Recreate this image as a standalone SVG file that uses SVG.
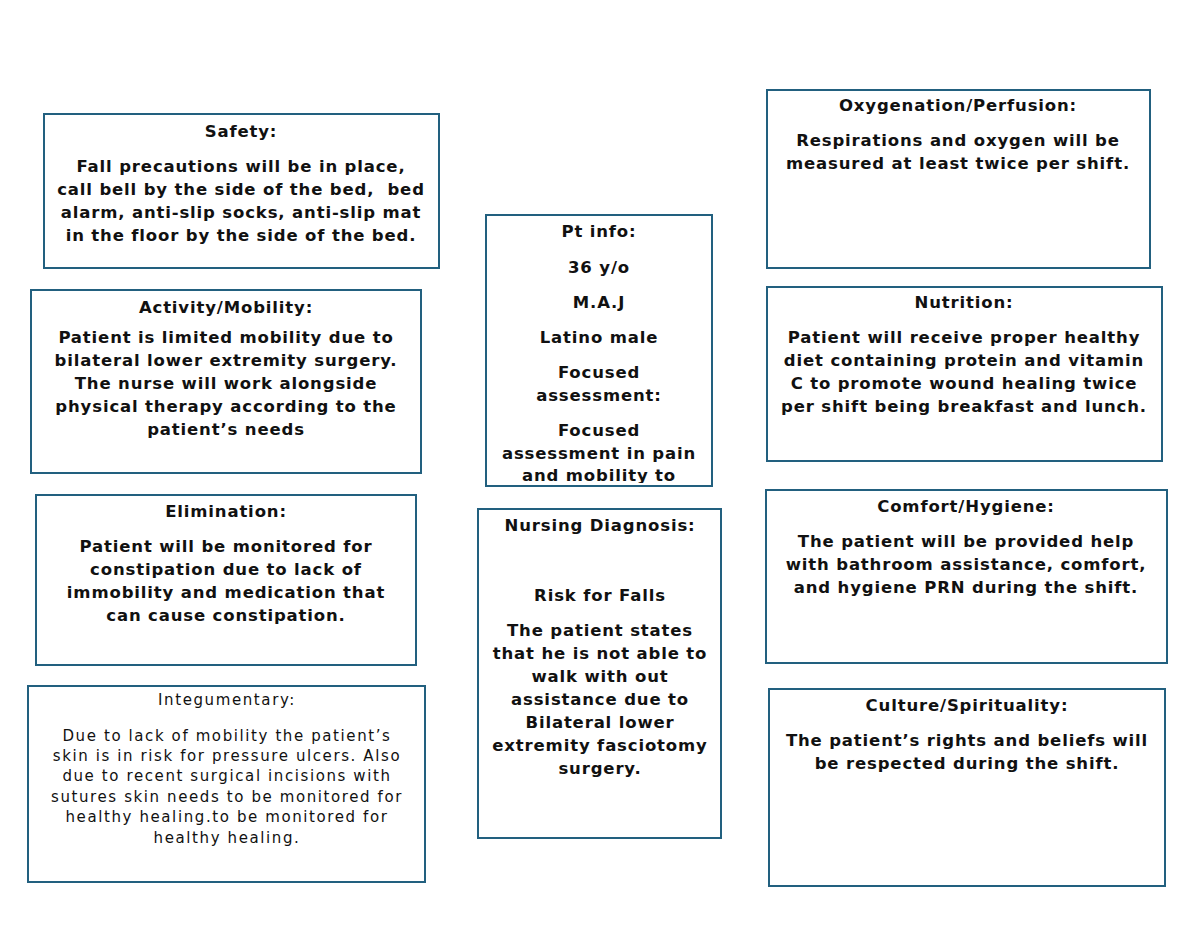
<svg xmlns="http://www.w3.org/2000/svg" width="1200" height="927" viewBox="0 0 1200 927">
<style>
.box{fill:#ffffff;stroke:#22607f;stroke-width:2}
.t{font-family:"DejaVu Sans",Verdana,sans-serif;font-size:16.5px;font-weight:bold;fill:#111;text-anchor:middle;letter-spacing:0.85px}
.r{font-family:"DejaVu Sans",Verdana,sans-serif;font-size:15px;fill:#111;text-anchor:middle;letter-spacing:1.6px}
</style>
<defs>
<clipPath id="cpPt"><rect x="487" y="216" width="224" height="267"/></clipPath>
</defs>
<rect width="1200" height="927" fill="#ffffff"/>
<g id="connectors"></g>
<g id="safety">
<rect class="box" x="44" y="114" width="395" height="154"/>
<text class="t" x="241" y="137">Safety:</text>
<text class="t" x="241" y="172">Fall precautions will be in place,</text>
<text class="t" x="241" y="195" xml:space="preserve">call bell by the side of the bed,  bed</text>
<text class="t" x="241" y="218">alarm, anti-slip socks, anti-slip mat</text>
<text class="t" x="241" y="241">in the floor by the side of the bed.</text>
</g>
<g id="activity">
<rect class="box" x="31" y="290" width="390" height="183"/>
<text class="t" x="226" y="313">Activity/Mobility:</text>
<text class="t" x="226" y="343">Patient is limited mobility due to</text>
<text class="t" x="226" y="366">bilateral lower extremity surgery.</text>
<text class="t" x="226" y="389">The nurse will work alongside</text>
<text class="t" x="226" y="412">physical therapy according to the</text>
<text class="t" x="226" y="435">patient’s needs</text>
</g>
<g id="elimination">
<rect class="box" x="36" y="495" width="380" height="170"/>
<text class="t" x="226" y="517">Elimination:</text>
<text class="t" x="226" y="552">Patient will be monitored for</text>
<text class="t" x="226" y="575">constipation due to lack of</text>
<text class="t" x="226" y="598">immobility and medication that</text>
<text class="t" x="226" y="621">can cause constipation.</text>
</g>
<g id="integumentary">
<rect class="box" x="28" y="686" width="397" height="196"/>
<text class="r" x="227" y="705">Integumentary:</text>
<text class="r" x="227" y="741">Due to lack of mobility the patient’s</text>
<text class="r" x="227" y="761">skin is in risk for pressure ulcers. Also</text>
<text class="r" x="227" y="781">due to recent surgical incisions with</text>
<text class="r" x="227" y="802">sutures skin needs to be monitored for</text>
<text class="r" x="227" y="822">healthy healing.to be monitored for</text>
<text class="r" x="227" y="843">healthy healing.</text>
</g>
<g id="ptinfo">
<rect class="box" x="486" y="215" width="226" height="271"/>
<g clip-path="url(#cpPt)">
<text class="t" x="599" y="237">Pt info:</text>
<text class="t" x="599" y="273">36 y/o</text>
<text class="t" x="599" y="308">M.A.J</text>
<text class="t" x="599" y="343">Latino male</text>
<text class="t" x="599" y="378">Focused</text>
<text class="t" x="599" y="401">assessment:</text>
<text class="t" x="599" y="436">Focused</text>
<text class="t" x="599" y="459">assessment in pain</text>
<text class="t" x="599" y="481">and mobility to</text>
</g>
</g>
<g id="diagnosis">
<rect class="box" x="478" y="509" width="243" height="329"/>
<text class="t" x="600" y="531">Nursing Diagnosis:</text>
<text class="t" x="600" y="601">Risk for Falls</text>
<text class="t" x="600" y="636">The patient states</text>
<text class="t" x="600" y="659">that he is not able to</text>
<text class="t" x="600" y="682">walk with out</text>
<text class="t" x="600" y="705">assistance due to</text>
<text class="t" x="600" y="728">Bilateral lower</text>
<text class="t" x="600" y="751">extremity fasciotomy</text>
<text class="t" x="600" y="774">surgery.</text>
</g>
<g id="oxygenation">
<rect class="box" x="767" y="90" width="383" height="178"/>
<text class="t" x="958" y="111">Oxygenation/Perfusion:</text>
<text class="t" x="958" y="146">Respirations and oxygen will be</text>
<text class="t" x="958" y="169">measured at least twice per shift.</text>
</g>
<g id="nutrition">
<rect class="box" x="767" y="287" width="395" height="174"/>
<text class="t" x="964" y="308">Nutrition:</text>
<text class="t" x="964" y="343">Patient will receive proper healthy</text>
<text class="t" x="964" y="366">diet containing protein and vitamin</text>
<text class="t" x="964" y="389">C to promote wound healing twice</text>
<text class="t" x="964" y="412">per shift being breakfast and lunch.</text>
</g>
<g id="comfort">
<rect class="box" x="766" y="490" width="401" height="173"/>
<text class="t" x="966" y="512">Comfort/Hygiene:</text>
<text class="t" x="966" y="547">The patient will be provided help</text>
<text class="t" x="966" y="570">with bathroom assistance, comfort,</text>
<text class="t" x="966" y="593">and hygiene PRN during the shift.</text>
</g>
<g id="culture">
<rect class="box" x="769" y="689" width="396" height="197"/>
<text class="t" x="967" y="711">Culture/Spirituality:</text>
<text class="t" x="967" y="746">The patient’s rights and beliefs will</text>
<text class="t" x="967" y="769">be respected during the shift.</text>
</g>
</svg>
